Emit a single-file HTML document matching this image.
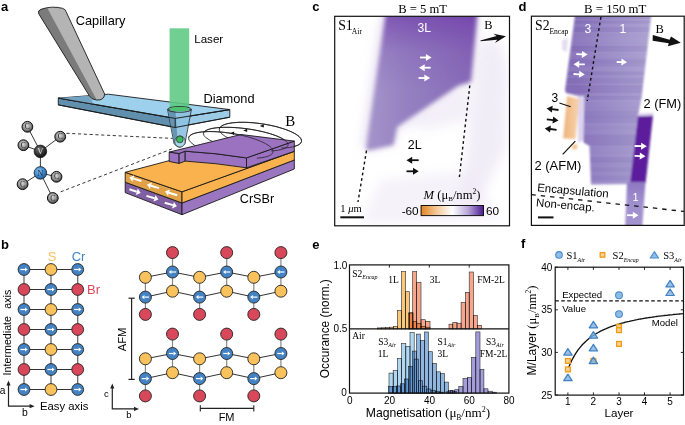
<!DOCTYPE html>
<html><head><meta charset="utf-8"><title>CrSBr figure</title>
<style>
html,body{margin:0;padding:0;background:#fff;width:685px;height:425px;overflow:hidden}
svg{display:block}
.sa{font-family:"Liberation Sans",Arial,sans-serif}
.se{font-family:"Liberation Serif","Times New Roman",serif}
.lab{font-family:"Liberation Sans",Arial,sans-serif;font-weight:bold;font-size:13px}
</style></head><body>
<svg width="685" height="425" viewBox="0 0 685 425">
<defs>
<radialGradient id="gC" cx="45%" cy="40%" r="60%"><stop offset="0" stop-color="#d8d8d8"/><stop offset="0.55" stop-color="#9a9a9a"/><stop offset="1" stop-color="#3a3a3a"/></radialGradient>
<radialGradient id="gV" cx="40%" cy="35%" r="65%"><stop offset="0" stop-color="#777"/><stop offset="0.6" stop-color="#333"/><stop offset="1" stop-color="#111"/></radialGradient>
<radialGradient id="gN" cx="40%" cy="35%" r="65%"><stop offset="0" stop-color="#8cc2ee"/><stop offset="0.6" stop-color="#3f86c8"/><stop offset="1" stop-color="#1f5a98"/></radialGradient>
<linearGradient id="gc" gradientUnits="userSpaceOnUse" x1="368" y1="0" x2="478" y2="0"><stop offset="0" stop-color="#a494ca"/><stop offset="0.35" stop-color="#9581c1"/><stop offset="1" stop-color="#8567b6"/></linearGradient>
<linearGradient id="gc2" gradientUnits="userSpaceOnUse" x1="0" y1="14" x2="0" y2="90"><stop offset="0" stop-color="#6a32a6" stop-opacity="0.6"/><stop offset="0.5" stop-color="#6a32a6" stop-opacity="0.15"/><stop offset="1" stop-color="#6a32a6" stop-opacity="0"/></linearGradient>
<linearGradient id="gd" gradientUnits="userSpaceOnUse" x1="575" y1="0" x2="650" y2="0"><stop offset="0" stop-color="#8a77bd"/><stop offset="1" stop-color="#a99ed0"/></linearGradient>
<linearGradient id="gcb" x1="0" y1="0" x2="1" y2="0"><stop offset="0" stop-color="#e38424"/><stop offset="0.25" stop-color="#f3c899"/><stop offset="0.5" stop-color="#ffffff"/><stop offset="0.75" stop-color="#b9a8da"/><stop offset="1" stop-color="#4b1a93"/></linearGradient>
<linearGradient id="gor" x1="0" y1="0" x2="1" y2="0"><stop offset="0" stop-color="#eeb27a"/><stop offset="0.6" stop-color="#f4c89c"/><stop offset="1" stop-color="#f6d2ad"/></linearGradient>
<linearGradient id="gstrip" x1="0" y1="0" x2="0" y2="1"><stop offset="0" stop-color="#8e78c2"/><stop offset="0.4" stop-color="#9f8ecd"/><stop offset="1" stop-color="#a494ce"/></linearGradient>
<filter id="blur2" x="-20%" y="-20%" width="140%" height="140%"><feGaussianBlur stdDeviation="2.3"/></filter>
<filter id="blur1" x="-20%" y="-20%" width="140%" height="140%"><feGaussianBlur stdDeviation="1"/></filter>
<filter id="blur6" x="-50%" y="-50%" width="200%" height="200%"><feGaussianBlur stdDeviation="6"/></filter>
</defs>
<rect width="685" height="425" fill="#fff"/>
<text x="1.0" y="10.9" class="lab">a</text>
<polygon points="58.3,98.1 175.2,118.4 175.2,127.5 58.3,104.9" fill="#6090ad" stroke="#1a1a1a" stroke-width="0.9" stroke-linejoin="round"/>
<polygon points="175.2,118.4 229.8,109.6 229.8,117.2 175.2,127.5" fill="#9bcbe6" stroke="#1a1a1a" stroke-width="0.9" stroke-linejoin="round"/>
<polygon points="58.3,98.1 108.4,94.2 229.8,109.6 175.2,118.4" fill="#9dd0ec" stroke="#1a1a1a" stroke-width="0.9" stroke-linejoin="round"/>
<polygon points="58.3,98.1 88.5,95.8 92.0,100.5 93.0,104.2" fill="#74a3c2"/>
<path d="M38.6,13.6 Q37.6,10.6 41,9.3 Q51.5,5.6 62.5,8.3 Q65.6,9.3 66,11.6 L104.7,94.2 Q104,100.6 96.5,100 Q91,99.6 89.2,95.6 Z" fill="#b4b4b4"/>
<path d="M38.6,13.6 Q37.6,10.6 41,9.3 Q44,8.3 47.3,7.9 L96.6,99.8 Q91.3,99.4 89.4,95.4 Z" fill="#7b7b7b"/>
<path d="M38.6,13.6 Q37.6,10.6 41,9.3 Q51.5,5.6 62.5,8.3 Q65.6,9.3 66,11.6 L104.7,94.2 Q104,100.6 96.5,100 Q91,99.6 89.2,95.6 Z" fill="none" stroke="#1a1a1a" stroke-width="0.9"/>
<path d="M167.6,109.6 L174,143.5 Q179.5,151 185,143.5 L191.4,109.6 Z" fill="#8fc3e2" stroke="#1a1a1a" stroke-width="0.8" opacity="0.92"/>
<path d="M167.9,110 L174.3,143 Q176,146.5 178,147.5 L175.5,110.5 Z" fill="#5f8cab" opacity="0.85"/>
<polyline points="58.3,98.1 175.2,118.4 229.8,109.6" fill="none" stroke="#1a1a1a" stroke-width="0.9"/>
<polyline points="175.2,118.4 175.2,127.5" fill="none" stroke="#1a1a1a" stroke-width="0.9"/>
<polyline points="58.3,104.9 175.2,127.5 229.8,117.2" fill="none" stroke="#1a1a1a" stroke-width="0.9"/>
<ellipse cx="180" cy="141.5" rx="5.2" ry="5.6" fill="#a9d6ee" stroke="#1a1a1a" stroke-width="0.6"/>
<circle cx="179.8" cy="139.4" r="3.4" fill="#3db85c" stroke="#1a1a1a" stroke-width="0.6"/>
<rect x="169.6" y="28.3" width="19.6" height="81.3" fill="#5cc982" opacity="0.88"/>
<ellipse cx="179.5" cy="109.4" rx="11.9" ry="2.9" fill="none" stroke="#1a1a1a" stroke-width="0.8"/>
<ellipse cx="179.4" cy="109.2" rx="9.6" ry="2.3" fill="#4cc270"/>
<text x="75.7" y="25.3" class="sa" font-size="12.8">Capillary</text>
<text x="194.2" y="43" class="sa" font-size="11.6">Laser</text>
<text x="203.4" y="102.8" class="sa" font-size="12.8">Diamond</text>
<line x1="66.4" y1="133.3" x2="172.6" y2="138.4" stroke="#222" stroke-width="0.9" stroke-dasharray="3.2,2.6"/>
<line x1="60.7" y1="191.8" x2="173" y2="148.5" stroke="#222" stroke-width="0.9" stroke-dasharray="3.2,2.6"/>
<line x1="40.4" y1="151.4" x2="27.4" y2="126.8" stroke="#222" stroke-width="0.9"/>
<line x1="40.4" y1="151.4" x2="23.4" y2="145.2" stroke="#222" stroke-width="0.9"/>
<line x1="40.4" y1="151.4" x2="60.2" y2="136.7" stroke="#222" stroke-width="0.9"/>
<line x1="40.4" y1="172.9" x2="56.5" y2="176.8" stroke="#222" stroke-width="0.9"/>
<line x1="40.4" y1="172.9" x2="22.6" y2="184.2" stroke="#222" stroke-width="0.9"/>
<line x1="40.4" y1="172.9" x2="52.8" y2="198" stroke="#222" stroke-width="0.9"/>
<line x1="40.4" y1="151.4" x2="40.4" y2="172.9" stroke="#222" stroke-width="0.9"/>
<circle cx="27.4" cy="126.8" r="5.4" fill="url(#gC)" stroke="#111" stroke-width="1"/>
<text x="27.4" y="129.4" class="se" font-size="7.6" text-anchor="middle" fill="#222">C</text>
<circle cx="23.4" cy="145.2" r="5.4" fill="url(#gC)" stroke="#111" stroke-width="1"/>
<text x="23.4" y="147.79999999999998" class="se" font-size="7.6" text-anchor="middle" fill="#222">C</text>
<circle cx="60.2" cy="136.7" r="5.4" fill="url(#gC)" stroke="#111" stroke-width="1"/>
<text x="60.2" y="139.29999999999998" class="se" font-size="7.6" text-anchor="middle" fill="#222">C</text>
<circle cx="56.5" cy="176.8" r="5.4" fill="url(#gC)" stroke="#111" stroke-width="1"/>
<text x="56.5" y="179.4" class="se" font-size="7.6" text-anchor="middle" fill="#222">C</text>
<circle cx="22.6" cy="184.2" r="5.4" fill="url(#gC)" stroke="#111" stroke-width="1"/>
<text x="22.6" y="186.79999999999998" class="se" font-size="7.6" text-anchor="middle" fill="#222">C</text>
<circle cx="52.8" cy="198" r="5.4" fill="url(#gC)" stroke="#111" stroke-width="1"/>
<text x="52.8" y="200.6" class="se" font-size="7.6" text-anchor="middle" fill="#222">C</text>
<circle cx="40.4" cy="151.4" r="6.3" fill="url(#gV)" stroke="#111" stroke-width="0.7"/>
<text x="40.4" y="154.4" class="se" font-size="8.6" text-anchor="middle" fill="#ddd">V</text>
<circle cx="40.4" cy="172.9" r="6.3" fill="url(#gN)" stroke="#111" stroke-width="0.7"/>
<text x="40.4" y="175.9" class="se" font-size="8.4" text-anchor="middle" fill="#1a2a4a">N</text>
<polygon points="125.2,182.2 182.0,203.0 182.0,214.7 125.2,192.6" fill="#7f5ea1" stroke="#1a1a1a" stroke-width="0.9" stroke-linejoin="round"/>
<polygon points="182.0,203.0 294.3,160.0 294.3,169.0 182.0,214.7" fill="#9a76c0" stroke="#1a1a1a" stroke-width="0.9" stroke-linejoin="round"/>
<polygon points="125.2,172.3 182.0,191.8 182.0,203.0 125.2,182.2" fill="#e1a247" stroke="#1a1a1a" stroke-width="0.9" stroke-linejoin="round"/>
<polygon points="182.0,191.8 294.3,151.3 294.3,160.0 182.0,203.0" fill="#f9b24e" stroke="#1a1a1a" stroke-width="0.9" stroke-linejoin="round"/>
<polygon points="125.2,172.3 240.0,141.9 294.3,151.3 182.0,191.8" fill="#f9b24e" stroke="#1a1a1a" stroke-width="0.9" stroke-linejoin="round"/>
<line x1="141.3" y1="181.0" x2="133.3" y2="178.6" stroke="#fff" stroke-width="2.0"/><polygon points="129.4,177.4 134.3,175.3 132.3,181.8" fill="#fff"/>
<line x1="159.0" y1="188.1" x2="150.9" y2="185.7" stroke="#fff" stroke-width="2.0"/><polygon points="147.0,184.5 151.9,182.4 149.9,188.9" fill="#fff"/>
<line x1="177.2" y1="195.2" x2="168.9" y2="192.8" stroke="#fff" stroke-width="2.0"/><polygon points="165.0,191.6 169.9,189.5 168.0,196.0" fill="#fff"/>
<line x1="129.4" y1="189.3" x2="136.8" y2="191.7" stroke="#fff" stroke-width="2.0"/><polygon points="140.7,192.9 135.8,194.9 137.8,188.4" fill="#fff"/>
<line x1="146.4" y1="195.9" x2="154.5" y2="198.3" stroke="#fff" stroke-width="2.0"/><polygon points="158.4,199.5 153.5,201.6 155.5,195.1" fill="#fff"/>
<line x1="164.7" y1="202.7" x2="173.0" y2="205.1" stroke="#fff" stroke-width="2.0"/><polygon points="176.9,206.3 172.0,208.4 173.9,201.9" fill="#fff"/>
<ellipse cx="230.8" cy="144.9" rx="42.8" ry="11.5" transform="rotate(9.5 230.8 144.9)" fill="none" stroke="#1a1a1a" stroke-width="0.75"/>
<ellipse cx="245.7" cy="139.2" rx="42.7" ry="10.5" transform="rotate(7.8 245.7 139.2)" fill="none" stroke="#1a1a1a" stroke-width="0.75"/>
<ellipse cx="260.4" cy="135.2" rx="41.6" ry="11.5" transform="rotate(8.5 260.4 135.2)" fill="none" stroke="#1a1a1a" stroke-width="0.75"/>
<polygon points="169.2,152.1 179.1,153.5 179.1,163.4 169.2,161.5" fill="#9b72c0" stroke="#1a1a1a" stroke-width="0.9" stroke-linejoin="round"/>
<polygon points="179.1,153.5 185.2,151.2 185.2,161.1 179.1,163.4" fill="#9b72c0" stroke="#1a1a1a" stroke-width="0.9" stroke-linejoin="round"/>
<path d="M185.2,151.2 Q216,153 246.5,157.9 L246.5,167.8 Q216,163 185.2,161.1 Z" fill="#9b72c0" stroke="#1a1a1a" stroke-width="0.9" stroke-linejoin="round"/>
<polygon points="246.5,157.9 294.3,141.1 294.3,151.3 246.5,167.8" fill="#9b72c0" stroke="#1a1a1a" stroke-width="0.9" stroke-linejoin="round"/>
<path d="M169.2,152.1 L241,134.5 L294.3,141.1 L246.5,157.9 Q216,153 185.2,151.2 L179.1,153.5 Z" fill="#9b72c0" stroke="#1a1a1a" stroke-width="0.9" stroke-linejoin="round"/>
<polyline points="188.59,137.84 188.73,137.28 188.99,136.74 189.35,136.22 189.81,135.72 190.37,135.25 191.03,134.80 191.80,134.37 192.66,133.98 193.62,133.60 194.67,133.26 195.81,132.95 197.04,132.66 198.35,132.41 199.74,132.19 201.22,132.00 202.76,131.84 204.38,131.72 206.06,131.62 207.80,131.56 209.60,131.54 211.46,131.55 213.36,131.59 215.31,131.66 217.29,131.77 219.31,131.91 221.36,132.08 223.43,132.29 225.52,132.52 227.62,132.79 229.73,133.09 231.85,133.42 233.96,133.77 236.06,134.16 238.15,134.57 240.22,135.00 242.27,135.47 244.29,135.95 246.27,136.46 248.22,136.99 250.12,137.54 251.98,138.10 253.78,138.69 255.52,139.28 257.21,139.90 258.82,140.52 260.37,141.16 261.84,141.81 263.24,142.46 264.55,143.12 265.78,143.78 266.92,144.45 267.97,145.12 268.93,145.79 269.79,146.45 270.56,147.11 271.22,147.77 271.79,148.42 272.25,149.06 272.61,149.69 272.86,150.31 273.01,150.91 273.06,151.50 272.99,152.07 272.82,152.63 272.55,153.16 272.17,153.68 271.69,154.17 271.11,154.64 270.43,155.09 269.64,155.51 268.76,155.90 267.79,156.26 266.72,156.60 265.56,156.91 264.32,157.19 262.99,157.43 261.58,157.65 260.09,157.83 258.53,157.99 256.90,158.10" fill="none" stroke="#1a1a1a" stroke-width="0.75"/>
<polyline points="203.40,133.40 203.52,132.89 203.75,132.39 204.09,131.90 204.54,131.44 205.09,130.99 205.74,130.57 206.49,130.17 207.35,129.79 208.30,129.43 209.34,129.10 210.48,128.80 211.71,128.52 213.02,128.27 214.42,128.04 215.89,127.85 217.45,127.68 219.07,127.54 220.76,127.44 222.52,127.36 224.33,127.31 226.20,127.29 228.11,127.30 230.08,127.35 232.08,127.42 234.11,127.52 236.18,127.66 238.27,127.82 240.38,128.01 242.50,128.23 244.63,128.47 246.76,128.75 248.89,129.05 251.02,129.38 253.12,129.73 255.21,130.10 257.28,130.50 259.32,130.92 261.32,131.36 263.28,131.82 265.20,132.30 267.06,132.80 268.88,133.32 270.63,133.85 272.32,134.39 273.95,134.94 275.50,135.51 276.98,136.08 278.37,136.67 279.69,137.26 280.92,137.85 282.05,138.45 283.10,139.05 284.05,139.65 284.90,140.25 285.66,140.84 286.31,141.43 286.86,142.02 287.31,142.60 287.65,143.17 287.88,143.73 288.00,144.28 288.02,144.82 287.93,145.34 287.74,145.84 287.43,146.33 287.03,146.80 286.51,147.26 285.89,147.69 285.17,148.10 284.35,148.49 283.44,148.85 282.42,149.19 281.32,149.50 280.12,149.79 278.83,150.05 277.46,150.28 276.02,150.49 274.49,150.67 272.89,150.81 271.22,150.93" fill="none" stroke="#1a1a1a" stroke-width="0.75"/>
<polyline points="219.26,129.05 219.40,128.47 219.65,127.91 220.02,127.37 220.49,126.84 221.06,126.34 221.75,125.87 222.53,125.42 223.42,124.99 224.41,124.60 225.49,124.23 226.67,123.89 227.93,123.58 229.29,123.30 230.73,123.06 232.24,122.84 233.83,122.66 235.50,122.52 237.23,122.40 239.02,122.32 240.87,122.28 242.77,122.27 244.72,122.30 246.71,122.36 248.74,122.45 250.80,122.58 252.89,122.74 254.99,122.94 257.11,123.17 259.24,123.43 261.37,123.72 263.50,124.04 265.62,124.40 267.73,124.78 269.81,125.19 271.88,125.62 273.91,126.09 275.90,126.57 277.86,127.08 279.76,127.61 281.62,128.17 283.41,128.74 285.15,129.33 286.82,129.93 288.42,130.55 289.94,131.18 291.39,131.82 292.75,132.47 294.03,133.13 295.21,133.79 296.30,134.46 297.30,135.13 298.19,135.80 298.99,136.46 299.68,137.13 300.27,137.79 300.75,138.44 301.12,139.08 301.38,139.71 301.53,140.34 301.58,140.94 301.51,141.53 301.33,142.11 301.04,142.67 300.65,143.20 300.14,143.72 299.53,144.21 298.82,144.68 298.00,145.12 297.08,145.53 296.06,145.92 294.95,146.28 293.74,146.61 292.45,146.91 291.07,147.18 289.60,147.41 288.06,147.62 286.45,147.79 284.76,147.92 283.01,148.03 281.20,148.09" fill="none" stroke="#1a1a1a" stroke-width="0.75"/>
<polygon points="230.10000000000002,133.2 234.10000000000002,131.5 234.10000000000002,134.89999999999998" fill="#111"/>
<polygon points="243.20000000000002,130.4 247.20000000000002,128.70000000000002 247.20000000000002,132.1" fill="#111"/>
<polygon points="259.8,125.9 263.8,124.2 263.8,127.60000000000001" fill="#111"/>
<text x="285.2" y="125.8" class="se" font-size="15">B</text>
<text x="239.8" y="203" class="sa" font-size="12.6">CrSBr</text>
<text x="1.0" y="248.7" class="lab">b</text>
<line x1="24.0" y1="269.5" x2="24.0" y2="389.5" stroke="#6a6a6a" stroke-width="1.3"/>
<line x1="51.0" y1="269.5" x2="51.0" y2="389.5" stroke="#6a6a6a" stroke-width="1.3"/>
<line x1="77.7" y1="269.5" x2="77.7" y2="389.5" stroke="#6a6a6a" stroke-width="1.3"/>
<line x1="24.0" y1="269.5" x2="77.7" y2="269.5" stroke="#333" stroke-width="1.2"/>
<line x1="24.0" y1="289.5" x2="77.7" y2="289.5" stroke="#333" stroke-width="1.2"/>
<line x1="24.0" y1="309.5" x2="77.7" y2="309.5" stroke="#333" stroke-width="1.2"/>
<line x1="24.0" y1="329.5" x2="77.7" y2="329.5" stroke="#333" stroke-width="1.2"/>
<line x1="24.0" y1="349.5" x2="77.7" y2="349.5" stroke="#333" stroke-width="1.2"/>
<line x1="24.0" y1="369.5" x2="77.7" y2="369.5" stroke="#333" stroke-width="1.2"/>
<line x1="24.0" y1="389.5" x2="77.7" y2="389.5" stroke="#333" stroke-width="1.2"/>
<circle cx="24.0" cy="269.5" r="5.9" fill="#4383c4" stroke="#222" stroke-width="0.9"/><line x1="20.4" y1="269.5" x2="25.0" y2="269.5" stroke="#fff" stroke-width="1.2"/><polygon points="27.7,269.5 25.0,267.4 25.0,271.6" fill="#fff"/>
<circle cx="51.0" cy="269.5" r="5.9" fill="#f9c25c" stroke="#222" stroke-width="0.9"/>
<circle cx="77.7" cy="269.5" r="5.9" fill="#4383c4" stroke="#222" stroke-width="0.9"/><line x1="74.1" y1="269.5" x2="78.7" y2="269.5" stroke="#fff" stroke-width="1.2"/><polygon points="81.4,269.5 78.7,267.4 78.7,271.6" fill="#fff"/>
<circle cx="24.0" cy="289.5" r="5.9" fill="#d8475a" stroke="#222" stroke-width="0.9"/>
<circle cx="51.0" cy="289.5" r="5.9" fill="#4383c4" stroke="#222" stroke-width="0.9"/><line x1="47.4" y1="289.5" x2="52.0" y2="289.5" stroke="#fff" stroke-width="1.2"/><polygon points="54.7,289.5 52.0,287.4 52.0,291.6" fill="#fff"/>
<circle cx="77.7" cy="289.5" r="5.9" fill="#d8475a" stroke="#222" stroke-width="0.9"/>
<circle cx="24.0" cy="309.5" r="5.9" fill="#4383c4" stroke="#222" stroke-width="0.9"/><line x1="20.4" y1="309.5" x2="25.0" y2="309.5" stroke="#fff" stroke-width="1.2"/><polygon points="27.7,309.5 25.0,307.4 25.0,311.6" fill="#fff"/>
<circle cx="51.0" cy="309.5" r="5.9" fill="#f9c25c" stroke="#222" stroke-width="0.9"/>
<circle cx="77.7" cy="309.5" r="5.9" fill="#4383c4" stroke="#222" stroke-width="0.9"/><line x1="74.1" y1="309.5" x2="78.7" y2="309.5" stroke="#fff" stroke-width="1.2"/><polygon points="81.4,309.5 78.7,307.4 78.7,311.6" fill="#fff"/>
<circle cx="24.0" cy="329.5" r="5.9" fill="#d8475a" stroke="#222" stroke-width="0.9"/>
<circle cx="51.0" cy="329.5" r="5.9" fill="#4383c4" stroke="#222" stroke-width="0.9"/><line x1="47.4" y1="329.5" x2="52.0" y2="329.5" stroke="#fff" stroke-width="1.2"/><polygon points="54.7,329.5 52.0,327.4 52.0,331.6" fill="#fff"/>
<circle cx="77.7" cy="329.5" r="5.9" fill="#d8475a" stroke="#222" stroke-width="0.9"/>
<circle cx="24.0" cy="349.5" r="5.9" fill="#4383c4" stroke="#222" stroke-width="0.9"/><line x1="20.4" y1="349.5" x2="25.0" y2="349.5" stroke="#fff" stroke-width="1.2"/><polygon points="27.7,349.5 25.0,347.4 25.0,351.6" fill="#fff"/>
<circle cx="51.0" cy="349.5" r="5.9" fill="#f9c25c" stroke="#222" stroke-width="0.9"/>
<circle cx="77.7" cy="349.5" r="5.9" fill="#4383c4" stroke="#222" stroke-width="0.9"/><line x1="74.1" y1="349.5" x2="78.7" y2="349.5" stroke="#fff" stroke-width="1.2"/><polygon points="81.4,349.5 78.7,347.4 78.7,351.6" fill="#fff"/>
<circle cx="24.0" cy="369.5" r="5.9" fill="#d8475a" stroke="#222" stroke-width="0.9"/>
<circle cx="51.0" cy="369.5" r="5.9" fill="#4383c4" stroke="#222" stroke-width="0.9"/><line x1="47.4" y1="369.5" x2="52.0" y2="369.5" stroke="#fff" stroke-width="1.2"/><polygon points="54.7,369.5 52.0,367.4 52.0,371.6" fill="#fff"/>
<circle cx="77.7" cy="369.5" r="5.9" fill="#d8475a" stroke="#222" stroke-width="0.9"/>
<circle cx="24.0" cy="389.5" r="5.9" fill="#4383c4" stroke="#222" stroke-width="0.9"/><line x1="20.4" y1="389.5" x2="25.0" y2="389.5" stroke="#fff" stroke-width="1.2"/><polygon points="27.7,389.5 25.0,387.4 25.0,391.6" fill="#fff"/>
<circle cx="51.0" cy="389.5" r="5.9" fill="#f9c25c" stroke="#222" stroke-width="0.9"/>
<circle cx="77.7" cy="389.5" r="5.9" fill="#4383c4" stroke="#222" stroke-width="0.9"/><line x1="74.1" y1="389.5" x2="78.7" y2="389.5" stroke="#fff" stroke-width="1.2"/><polygon points="81.4,389.5 78.7,387.4 78.7,391.6" fill="#fff"/>
<text x="52.0" y="260.6" class="sa" font-size="13" fill="#f9c25c" text-anchor="middle">S</text>
<text x="78.6" y="260.6" class="sa" font-size="13" fill="#4383c4" text-anchor="middle">Cr</text>
<text x="87.0" y="293.6" class="sa" font-size="13" fill="#d8475a">Br</text>
<text transform="translate(10.9,375.4) rotate(-90)" class="sa" font-size="10.7">Intermediate<tspan dx="7.3">axis</tspan></text>
<polyline points="8.5,383 8.5,406.2 31,406.2" fill="none" stroke="#222" stroke-width="1.2"/>
<polygon points="8.5,380.6 6.4,385.6 10.6,385.6" fill="#222"/>
<polygon points="34.6,406.2 29.6,404.1 29.6,408.3" fill="#222"/>
<text x="2.6" y="394" class="sa" font-size="10.2" text-anchor="middle">a</text>
<text x="24.8" y="416" class="sa" font-size="10.4" text-anchor="middle">b</text>
<text x="40" y="410.2" class="sa" font-size="11.3">Easy axis</text>
<line x1="145.4" y1="277.3" x2="145.4" y2="314.4" stroke="#888" stroke-width="1.2"/>
<line x1="172.5" y1="252.6" x2="172.5" y2="291.2" stroke="#888" stroke-width="1.2"/>
<line x1="199.6" y1="277.3" x2="199.6" y2="314.4" stroke="#888" stroke-width="1.2"/>
<line x1="226.7" y1="252.6" x2="226.7" y2="291.2" stroke="#888" stroke-width="1.2"/>
<line x1="253.8" y1="277.3" x2="253.8" y2="314.4" stroke="#888" stroke-width="1.2"/>
<line x1="280.9" y1="252.6" x2="280.9" y2="291.2" stroke="#888" stroke-width="1.2"/>
<polyline points="145.4,277.3 172.5,272.0 199.6,277.3 226.7,272.0 253.8,277.3 280.9,272.0" fill="none" stroke="#333" stroke-width="1"/>
<polyline points="145.4,297.1 172.5,291.2 199.6,297.1 226.7,291.2 253.8,297.1 280.9,291.2" fill="none" stroke="#333" stroke-width="1"/>
<circle cx="145.4" cy="277.3" r="6.0" fill="#f9c25c" stroke="#222" stroke-width="0.9"/>
<circle cx="145.4" cy="297.1" r="6.0" fill="#4383c4" stroke="#222" stroke-width="0.9"/><line x1="149.0" y1="297.1" x2="144.4" y2="297.1" stroke="#fff" stroke-width="1.2"/><polygon points="141.7,297.1 144.4,295.0 144.4,299.2" fill="#fff"/>
<circle cx="145.4" cy="314.4" r="6.0" fill="#d8475a" stroke="#222" stroke-width="0.9"/>
<circle cx="172.5" cy="252.6" r="6.0" fill="#d8475a" stroke="#222" stroke-width="0.9"/>
<circle cx="172.5" cy="272.0" r="6.0" fill="#4383c4" stroke="#222" stroke-width="0.9"/><line x1="176.1" y1="272.0" x2="171.5" y2="272.0" stroke="#fff" stroke-width="1.2"/><polygon points="168.8,272.0 171.5,269.9 171.5,274.1" fill="#fff"/>
<circle cx="172.5" cy="291.2" r="6.0" fill="#f9c25c" stroke="#222" stroke-width="0.9"/>
<circle cx="199.6" cy="277.3" r="6.0" fill="#f9c25c" stroke="#222" stroke-width="0.9"/>
<circle cx="199.6" cy="297.1" r="6.0" fill="#4383c4" stroke="#222" stroke-width="0.9"/><line x1="203.2" y1="297.1" x2="198.6" y2="297.1" stroke="#fff" stroke-width="1.2"/><polygon points="195.9,297.1 198.6,295.0 198.6,299.2" fill="#fff"/>
<circle cx="199.6" cy="314.4" r="6.0" fill="#d8475a" stroke="#222" stroke-width="0.9"/>
<circle cx="226.7" cy="252.6" r="6.0" fill="#d8475a" stroke="#222" stroke-width="0.9"/>
<circle cx="226.7" cy="272.0" r="6.0" fill="#4383c4" stroke="#222" stroke-width="0.9"/><line x1="230.3" y1="272.0" x2="225.7" y2="272.0" stroke="#fff" stroke-width="1.2"/><polygon points="223.0,272.0 225.7,269.9 225.7,274.1" fill="#fff"/>
<circle cx="226.7" cy="291.2" r="6.0" fill="#f9c25c" stroke="#222" stroke-width="0.9"/>
<circle cx="253.8" cy="277.3" r="6.0" fill="#f9c25c" stroke="#222" stroke-width="0.9"/>
<circle cx="253.8" cy="297.1" r="6.0" fill="#4383c4" stroke="#222" stroke-width="0.9"/><line x1="257.4" y1="297.1" x2="252.8" y2="297.1" stroke="#fff" stroke-width="1.2"/><polygon points="250.1,297.1 252.8,295.0 252.8,299.2" fill="#fff"/>
<circle cx="253.8" cy="314.4" r="6.0" fill="#d8475a" stroke="#222" stroke-width="0.9"/>
<circle cx="280.9" cy="252.6" r="6.0" fill="#d8475a" stroke="#222" stroke-width="0.9"/>
<circle cx="280.9" cy="272.0" r="6.0" fill="#4383c4" stroke="#222" stroke-width="0.9"/><line x1="284.5" y1="272.0" x2="279.9" y2="272.0" stroke="#fff" stroke-width="1.2"/><polygon points="277.2,272.0 279.9,269.9 279.9,274.1" fill="#fff"/>
<circle cx="280.9" cy="291.2" r="6.0" fill="#f9c25c" stroke="#222" stroke-width="0.9"/>
<line x1="145.4" y1="358.8" x2="145.4" y2="395.9" stroke="#888" stroke-width="1.2"/>
<line x1="172.5" y1="334.1" x2="172.5" y2="372.7" stroke="#888" stroke-width="1.2"/>
<line x1="199.6" y1="358.8" x2="199.6" y2="395.9" stroke="#888" stroke-width="1.2"/>
<line x1="226.7" y1="334.1" x2="226.7" y2="372.7" stroke="#888" stroke-width="1.2"/>
<line x1="253.8" y1="358.8" x2="253.8" y2="395.9" stroke="#888" stroke-width="1.2"/>
<line x1="280.9" y1="334.1" x2="280.9" y2="372.7" stroke="#888" stroke-width="1.2"/>
<polyline points="145.4,358.8 172.5,353.5 199.6,358.8 226.7,353.5 253.8,358.8 280.9,353.5" fill="none" stroke="#333" stroke-width="1"/>
<polyline points="145.4,378.6 172.5,372.7 199.6,378.6 226.7,372.7 253.8,378.6 280.9,372.7" fill="none" stroke="#333" stroke-width="1"/>
<circle cx="145.4" cy="358.8" r="6.0" fill="#f9c25c" stroke="#222" stroke-width="0.9"/>
<circle cx="145.4" cy="378.6" r="6.0" fill="#4383c4" stroke="#222" stroke-width="0.9"/><line x1="141.8" y1="378.6" x2="146.4" y2="378.6" stroke="#fff" stroke-width="1.2"/><polygon points="149.1,378.6 146.4,376.5 146.4,380.7" fill="#fff"/>
<circle cx="145.4" cy="395.9" r="6.0" fill="#d8475a" stroke="#222" stroke-width="0.9"/>
<circle cx="172.5" cy="334.1" r="6.0" fill="#d8475a" stroke="#222" stroke-width="0.9"/>
<circle cx="172.5" cy="353.5" r="6.0" fill="#4383c4" stroke="#222" stroke-width="0.9"/><line x1="168.9" y1="353.5" x2="173.5" y2="353.5" stroke="#fff" stroke-width="1.2"/><polygon points="176.2,353.5 173.5,351.4 173.5,355.6" fill="#fff"/>
<circle cx="172.5" cy="372.7" r="6.0" fill="#f9c25c" stroke="#222" stroke-width="0.9"/>
<circle cx="199.6" cy="358.8" r="6.0" fill="#f9c25c" stroke="#222" stroke-width="0.9"/>
<circle cx="199.6" cy="378.6" r="6.0" fill="#4383c4" stroke="#222" stroke-width="0.9"/><line x1="196.0" y1="378.6" x2="200.6" y2="378.6" stroke="#fff" stroke-width="1.2"/><polygon points="203.3,378.6 200.6,376.5 200.6,380.7" fill="#fff"/>
<circle cx="199.6" cy="395.9" r="6.0" fill="#d8475a" stroke="#222" stroke-width="0.9"/>
<circle cx="226.7" cy="334.1" r="6.0" fill="#d8475a" stroke="#222" stroke-width="0.9"/>
<circle cx="226.7" cy="353.5" r="6.0" fill="#4383c4" stroke="#222" stroke-width="0.9"/><line x1="223.1" y1="353.5" x2="227.7" y2="353.5" stroke="#fff" stroke-width="1.2"/><polygon points="230.4,353.5 227.7,351.4 227.7,355.6" fill="#fff"/>
<circle cx="226.7" cy="372.7" r="6.0" fill="#f9c25c" stroke="#222" stroke-width="0.9"/>
<circle cx="253.8" cy="358.8" r="6.0" fill="#f9c25c" stroke="#222" stroke-width="0.9"/>
<circle cx="253.8" cy="378.6" r="6.0" fill="#4383c4" stroke="#222" stroke-width="0.9"/><line x1="250.2" y1="378.6" x2="254.8" y2="378.6" stroke="#fff" stroke-width="1.2"/><polygon points="257.5,378.6 254.8,376.5 254.8,380.7" fill="#fff"/>
<circle cx="253.8" cy="395.9" r="6.0" fill="#d8475a" stroke="#222" stroke-width="0.9"/>
<circle cx="280.9" cy="334.1" r="6.0" fill="#d8475a" stroke="#222" stroke-width="0.9"/>
<circle cx="280.9" cy="353.5" r="6.0" fill="#4383c4" stroke="#222" stroke-width="0.9"/><line x1="277.3" y1="353.5" x2="281.9" y2="353.5" stroke="#fff" stroke-width="1.2"/><polygon points="284.6,353.5 281.9,351.4 281.9,355.6" fill="#fff"/>
<circle cx="280.9" cy="372.7" r="6.0" fill="#f9c25c" stroke="#222" stroke-width="0.9"/>
<line x1="131.6" y1="298.2" x2="131.6" y2="379.4" stroke="#222" stroke-width="1.2"/>
<line x1="128.5" y1="298.2" x2="134.7" y2="298.2" stroke="#222" stroke-width="1.2"/>
<line x1="128.5" y1="379.4" x2="134.7" y2="379.4" stroke="#222" stroke-width="1.2"/>
<text transform="translate(126.2,339.5) rotate(-90)" class="sa" font-size="11.2" text-anchor="middle">AFM</text>
<polyline points="112.3,386 112.3,408.9 135.5,408.9" fill="none" stroke="#222" stroke-width="1.2"/>
<polygon points="112.3,383.4 110.2,388.4 114.4,388.4" fill="#222"/>
<polygon points="139,408.9 134,406.8 134,411" fill="#222"/>
<text x="106.4" y="397" class="sa" font-size="9.5" text-anchor="middle">c</text>
<text x="129" y="418" class="sa" font-size="9.5" text-anchor="middle">b</text>
<line x1="200.3" y1="408.4" x2="253.8" y2="408.4" stroke="#222" stroke-width="1.1"/>
<line x1="200.3" y1="405.3" x2="200.3" y2="411.5" stroke="#222" stroke-width="1.1"/>
<line x1="253.8" y1="405.3" x2="253.8" y2="411.5" stroke="#222" stroke-width="1.1"/>
<text x="226.6" y="421" class="sa" font-size="11" text-anchor="middle">FM</text>
<text x="312.2" y="11.2" class="lab">c</text>
<text x="422.6" y="13.2" class="se" font-size="12.6" text-anchor="middle">B = 5 mT</text>
<clipPath id="clipc"><rect x="335" y="16.5" width="174.2" height="209"/></clipPath>
<g clip-path="url(#clipc)">
<g filter="url(#blur6)"><polygon points="480,40 500,40 508,70 505,150 480,200 460,210 470,120" fill="#ebe6f4" opacity="0.7"/><polygon points="380,180 470,170 500,220 360,225" fill="#efeaf6" opacity="0.6"/><polygon points="400,125 458,88 470,88 468,120 430,130" fill="#ece6f4" opacity="0.6"/></g>
<g filter="url(#blur6)"><polygon points="383,12 478,12 470.6,81.8 458.5,85.5 397,127 393.5,143.5 366.5,149 363,147.5" fill="#d9cfea" opacity="0.8"/></g><g filter="url(#blur2)"><polygon points="386,12 477.5,12 471,81.8 458.5,85.5 397,127 393.5,145 368.5,150.5 366,149" fill="url(#gc)"/><polygon points="386,12 477.5,12 471,81.8 458.5,85.5 397,127 393.5,145 368.5,150.5 366,149" fill="url(#gc2)"/></g>
</g>
<rect x="334.7" y="16.3" width="174.8" height="209.5" fill="none" stroke="#111" stroke-width="1.2"/>
<text x="338.2" y="30.2" class="se" font-size="13.8">S1</text><text x="351.8" y="34.3" class="se" font-size="7.6">Air</text>
<text x="417.4" y="31.6" class="sa" font-size="12.2" fill="#fff">3L</text>
<line x1="420.0" y1="57.5" x2="426.4" y2="57.5" stroke="#fff" stroke-width="1.8"/><polygon points="431.6,57.5 425.9,61.0 425.9,54.0" fill="#fff"/>
<line x1="430.7" y1="67.7" x2="424.2" y2="67.7" stroke="#fff" stroke-width="1.8"/><polygon points="419.0,67.7 424.7,64.2 424.7,71.2" fill="#fff"/>
<line x1="418.5" y1="78.0" x2="424.9" y2="78.0" stroke="#fff" stroke-width="1.8"/><polygon points="430.1,78.0 424.4,81.5 424.4,74.5" fill="#fff"/>
<text x="484.3" y="29.4" class="se" font-size="12.3">B</text>
<polygon points="480.6,41.2 497.2,39.7 495.0,43.0 506.0,36.2 493.4,33.7 496.5,36.0 480.4,40.4" fill="#111"/>
<text x="407.8" y="149" class="sa" font-size="12.4">2L</text>
<line x1="418.7" y1="160.2" x2="411.7" y2="160.2" stroke="#111" stroke-width="1.8"/><polygon points="406.5,160.2 412.2,156.7 412.2,163.7" fill="#111"/>
<line x1="406.5" y1="171.3" x2="413.5" y2="171.3" stroke="#111" stroke-width="1.8"/><polygon points="418.7,171.3 413.0,174.8 413.0,167.8" fill="#111"/>
<line x1="366.5" y1="150.5" x2="358" y2="202" stroke="#111" stroke-width="1.4" stroke-dasharray="2.8,2.8"/>
<line x1="469.8" y1="85.5" x2="459.4" y2="177" stroke="#111" stroke-width="1.4" stroke-dasharray="2.8,2.8"/>
<text x="423.6" y="199" class="se" font-size="12.6"><tspan font-style="italic">M</tspan> (μ<tspan font-size="7" dy="2.2">B</tspan><tspan dy="-2.2">/nm</tspan><tspan font-size="7.6" dy="-4.6">2</tspan><tspan dy="4.6">)</tspan></text>
<rect x="421.1" y="205.5" width="62.4" height="10.1" fill="url(#gcb)" stroke="#111" stroke-width="1"/>
<text x="418.7" y="214.8" class="sa" font-size="11.8" text-anchor="end">-60</text>
<text x="486" y="214.8" class="sa" font-size="11.8">60</text>
<text x="340.2" y="212.2" class="se" font-size="10.6">1 <tspan font-style="italic">μ</tspan>m</text>
<rect x="340.3" y="216.3" width="23.7" height="2" fill="#111"/>
<text x="518.4" y="11" class="lab">d</text>
<text x="615.2" y="13.4" class="se" font-size="12.8" text-anchor="middle">B = 150 mT</text>
<clipPath id="clipd"><rect x="531.8" y="16.5" width="151.7" height="208.7"/></clipPath>
<g clip-path="url(#clipd)">
<g filter="url(#blur1)">
<polygon points="562,40 568,38 567,52 562,50" fill="#e4def0"/>
<polygon points="578,96 585,96 584,140 578,143" fill="#dcd4ee"/>
<polygon id="dflake" points="575.4,12 651.6,12 641.8,96 638,116 630.5,184 591,184.5 589.5,146 583.5,142.5 584.4,96 578,96 566,93 565,90" fill="url(#gd)"/>
<polygon points="575.4,12 601.5,12 587.5,100 584.8,96 578,96 566,93 565,90" fill="#6a4aa6" opacity="0.10"/>
<polygon points="567,96 579.2,98.8 575.5,139.2 563.2,138.3" fill="url(#gor)"/>
<polygon points="572.6,144.4 577.6,144.4 576.8,149.3 571.8,149.3" fill="#f3c394"/>
<polygon points="637.6,113.5 653.5,113 653,116 645.6,183.2 630,183.2 637.6,116" fill="#d8cdec"/><polygon points="637.8,116.2 653,115.8 645.6,183.2 630,183.2" fill="#5b1f9c"/>
<polygon points="627,182 645.5,182 642,230 625,230" fill="url(#gstrip)"/>
</g>
<clipPath id="clipdf"><polygon points="575.4,16 651.6,16 641.8,96 638,116 630.5,184 591,184.5 589.5,146 583.5,142.5 584.4,96 578,96 566,93 565,90"/></clipPath>
<g clip-path="url(#clipdf)">
<rect x="560" y="16.0" width="95" height="3" fill="#3a2070" opacity="0.026"/>
<rect x="560" y="19.0" width="95" height="1.5" fill="#fff" opacity="0.047"/>
<rect x="560" y="20.5" width="95" height="3" fill="#3a2070" opacity="0.046"/>
<rect x="560" y="23.5" width="95" height="2" fill="#fff" opacity="0.042"/>
<rect x="560" y="25.5" width="95" height="1.5" fill="#fff" opacity="0.048"/>
<rect x="560" y="27.0" width="95" height="1.5" fill="#3a2070" opacity="0.015"/>
<rect x="560" y="28.5" width="95" height="2" fill="#3a2070" opacity="0.033"/>
<rect x="560" y="30.5" width="95" height="1.5" fill="#3a2070" opacity="0.026"/>
<rect x="560" y="32.0" width="95" height="2" fill="#fff" opacity="0.063"/>
<rect x="560" y="34.0" width="95" height="3" fill="#fff" opacity="0.047"/>
<rect x="560" y="37.0" width="95" height="5" fill="#fff" opacity="0.061"/>
<rect x="560" y="42.0" width="95" height="2" fill="#fff" opacity="0.049"/>
<rect x="560" y="44.0" width="95" height="2" fill="#fff" opacity="0.047"/>
<rect x="560" y="46.0" width="95" height="1.5" fill="#3a2070" opacity="0.035"/>
<rect x="560" y="47.5" width="95" height="4" fill="#3a2070" opacity="0.027"/>
<rect x="560" y="51.5" width="95" height="3" fill="#fff" opacity="0.066"/>
<rect x="560" y="54.5" width="95" height="3" fill="#fff" opacity="0.060"/>
<rect x="560" y="57.5" width="95" height="2" fill="#fff" opacity="0.035"/>
<rect x="560" y="59.5" width="95" height="4" fill="#3a2070" opacity="0.039"/>
<rect x="560" y="63.5" width="95" height="3" fill="#3a2070" opacity="0.013"/>
<rect x="560" y="66.5" width="95" height="5" fill="#fff" opacity="0.058"/>
<rect x="560" y="71.5" width="95" height="2" fill="#3a2070" opacity="0.027"/>
<rect x="560" y="73.5" width="95" height="1.5" fill="#3a2070" opacity="0.033"/>
<rect x="560" y="75.0" width="95" height="3" fill="#fff" opacity="0.038"/>
<rect x="560" y="78.0" width="95" height="4" fill="#3a2070" opacity="0.028"/>
<rect x="560" y="82.0" width="95" height="1.5" fill="#3a2070" opacity="0.029"/>
<rect x="560" y="83.5" width="95" height="1.5" fill="#fff" opacity="0.055"/>
<rect x="560" y="85.0" width="95" height="5" fill="#3a2070" opacity="0.043"/>
<rect x="560" y="90.0" width="95" height="3" fill="#3a2070" opacity="0.045"/>
<rect x="560" y="93.0" width="95" height="3" fill="#fff" opacity="0.043"/>
<rect x="560" y="96.0" width="95" height="2" fill="#3a2070" opacity="0.030"/>
<rect x="560" y="98.0" width="95" height="2" fill="#3a2070" opacity="0.015"/>
<rect x="560" y="100.0" width="95" height="2" fill="#fff" opacity="0.066"/>
<rect x="560" y="102.0" width="95" height="4" fill="#fff" opacity="0.042"/>
<rect x="560" y="106.0" width="95" height="5" fill="#fff" opacity="0.027"/>
<rect x="560" y="111.0" width="95" height="4" fill="#3a2070" opacity="0.021"/>
<rect x="560" y="115.0" width="95" height="4" fill="#3a2070" opacity="0.037"/>
<rect x="560" y="119.0" width="95" height="4" fill="#3a2070" opacity="0.016"/>
<rect x="560" y="123.0" width="95" height="2" fill="#fff" opacity="0.053"/>
<rect x="560" y="125.0" width="95" height="1.5" fill="#fff" opacity="0.049"/>
<rect x="560" y="126.5" width="95" height="3" fill="#fff" opacity="0.027"/>
<rect x="560" y="129.5" width="95" height="5" fill="#fff" opacity="0.048"/>
<rect x="560" y="134.5" width="95" height="2" fill="#3a2070" opacity="0.031"/>
<rect x="560" y="136.5" width="95" height="5" fill="#3a2070" opacity="0.040"/>
<rect x="560" y="141.5" width="95" height="4" fill="#3a2070" opacity="0.041"/>
<rect x="560" y="145.5" width="95" height="5" fill="#fff" opacity="0.040"/>
<rect x="560" y="150.5" width="95" height="1.5" fill="#fff" opacity="0.040"/>
<rect x="560" y="152.0" width="95" height="2" fill="#fff" opacity="0.030"/>
<rect x="560" y="154.0" width="95" height="2" fill="#fff" opacity="0.050"/>
<rect x="560" y="156.0" width="95" height="1.5" fill="#fff" opacity="0.028"/>
<rect x="560" y="157.5" width="95" height="1.5" fill="#3a2070" opacity="0.035"/>
<rect x="560" y="159.0" width="95" height="1.5" fill="#3a2070" opacity="0.035"/>
<rect x="560" y="160.5" width="95" height="2" fill="#3a2070" opacity="0.048"/>
<rect x="560" y="162.5" width="95" height="5" fill="#fff" opacity="0.026"/>
<rect x="560" y="167.5" width="95" height="4" fill="#3a2070" opacity="0.029"/>
<rect x="560" y="171.5" width="95" height="4" fill="#fff" opacity="0.027"/>
<rect x="560" y="175.5" width="95" height="3" fill="#3a2070" opacity="0.029"/>
<rect x="560" y="178.5" width="95" height="2" fill="#3a2070" opacity="0.018"/>
<rect x="560" y="180.5" width="95" height="5" fill="#fff" opacity="0.055"/>
<rect x="560" y="185.5" width="95" height="1.5" fill="#3a2070" opacity="0.022"/>
</g>
</g>
<rect x="531.4" y="16.2" width="152.8" height="209.2" fill="none" stroke="#111" stroke-width="1.2"/>
<text x="535" y="30" class="se" font-size="13.8">S2</text><text x="549.4" y="34" class="se" font-size="7.6">Encap</text>
<text x="584.6" y="32.6" class="sa" font-size="12.2" fill="#fff">3</text>
<text x="619.6" y="32.6" class="sa" font-size="12.2" fill="#fff">1</text>
<line x1="600.9" y1="17" x2="587.2" y2="101" stroke="#111" stroke-width="1.4" stroke-dasharray="2.8,2.8"/>
<line x1="576.3" y1="54.2" x2="582.4" y2="54.4" stroke="#fff" stroke-width="1.8"/><polygon points="587.6,54.6 581.8,57.9 582.0,50.9" fill="#fff"/>
<line x1="584.8" y1="64.4" x2="578.7" y2="64.3" stroke="#fff" stroke-width="1.8"/><polygon points="573.5,64.2 579.3,60.8 579.1,67.8" fill="#fff"/>
<line x1="573.5" y1="74.0" x2="579.6" y2="74.3" stroke="#fff" stroke-width="1.8"/><polygon points="584.8,74.6 578.9,77.8 579.3,70.8" fill="#fff"/>
<line x1="616.7" y1="62.0" x2="621.9" y2="62.2" stroke="#fff" stroke-width="1.8"/><polygon points="627.1,62.3 621.3,65.6 621.5,58.6" fill="#fff"/>
<text x="655.4" y="33.2" class="se" font-size="12.5">B</text>
<polygon points="652.8,35.0 669.6,39.7 671.0,36.4 680.8,42.7 667.8,46.2 668.8,43.3 652.6,40.8" fill="#111"/>
<text x="551.6" y="101.6" class="sa" font-size="12">3</text>
<line x1="559.4" y1="103" x2="570.7" y2="106.7" stroke="#111" stroke-width="1.1"/>
<text x="643.6" y="108.4" class="sa" font-size="12.8">2 (FM)</text>
<line x1="558.5" y1="110.0" x2="551.8" y2="109.1" stroke="#111" stroke-width="1.8"/><polygon points="546.6,108.4 552.7,105.7 551.8,112.6" fill="#111"/>
<line x1="546.8" y1="119.4" x2="553.3" y2="120.1" stroke="#111" stroke-width="1.8"/><polygon points="558.5,120.6 552.5,123.5 553.2,116.5" fill="#111"/>
<line x1="556.6" y1="129.8" x2="550.0" y2="129.0" stroke="#111" stroke-width="1.8"/><polygon points="544.8,128.4 550.9,125.6 550.0,132.5" fill="#111"/>
<line x1="562.7" y1="154.3" x2="575.3" y2="141.1" stroke="#111" stroke-width="1.2"/>
<text x="534.4" y="170.3" class="sa" font-size="13">2 (AFM)</text>
<line x1="634.6" y1="146.0" x2="641.6" y2="146.2" stroke="#fff" stroke-width="1.8"/><polygon points="646.8,146.3 641.0,149.7 641.2,142.7" fill="#fff"/>
<line x1="634.6" y1="155.9" x2="640.3" y2="156.1" stroke="#fff" stroke-width="1.8"/><polygon points="645.5,156.2 639.7,159.5 639.9,152.5" fill="#fff"/>
<text x="632.5" y="201" class="sa" font-size="11" fill="#fff">1</text>
<line x1="627.0" y1="215.2" x2="633.3" y2="215.2" stroke="#fff" stroke-width="1.8"/><polygon points="638.5,215.2 632.8,218.7 632.8,211.7" fill="#fff"/>
<line x1="531.4" y1="194.6" x2="684" y2="211.4" stroke="#111" stroke-width="1.3" stroke-dasharray="4.4,5"/>
<text transform="translate(537,191.2) rotate(5.2)" class="sa" font-size="11.4">Encapsulation</text>
<text transform="translate(535.7,206.2) rotate(5.2)" class="sa" font-size="11.4">Non-encap.</text>
<rect x="538" y="216.4" width="15.5" height="2" fill="#111"/>
<text x="312.2" y="248.5" class="lab">e</text>
<g style="isolation:isolate">
<rect x="377.6" y="327.9" width="4.0" height="1.0" fill="#f9c87a" stroke="#2a2a2a" stroke-width="0.6" style="mix-blend-mode:multiply"/>
<rect x="381.6" y="327.8" width="4.0" height="1.1" fill="#f9c87a" stroke="#2a2a2a" stroke-width="0.6" style="mix-blend-mode:multiply"/>
<rect x="385.6" y="327.6" width="3.8" height="1.3" fill="#f9c87a" stroke="#2a2a2a" stroke-width="0.6" style="mix-blend-mode:multiply"/>
<rect x="389.4" y="327.2" width="4.0" height="1.7" fill="#f9c87a" stroke="#2a2a2a" stroke-width="0.6" style="mix-blend-mode:multiply"/>
<rect x="393.4" y="326.6" width="4.0" height="2.3" fill="#f9c87a" stroke="#2a2a2a" stroke-width="0.6" style="mix-blend-mode:multiply"/>
<rect x="397.4" y="310.6" width="4.1" height="18.3" fill="#f9c87a" stroke="#2a2a2a" stroke-width="0.6" style="mix-blend-mode:multiply"/>
<rect x="401.5" y="271.6" width="4.2" height="57.3" fill="#f9c87a" stroke="#2a2a2a" stroke-width="0.6" style="mix-blend-mode:multiply"/>
<rect x="405.7" y="291.7" width="3.7" height="37.2" fill="#f9c87a" stroke="#2a2a2a" stroke-width="0.6" style="mix-blend-mode:multiply"/>
<rect x="409.4" y="312.8" width="3.7" height="16.1" fill="#f9c87a" stroke="#2a2a2a" stroke-width="0.6" style="mix-blend-mode:multiply"/>
<rect x="413.1" y="321.3" width="3.7" height="7.6" fill="#f9c87a" stroke="#2a2a2a" stroke-width="0.6" style="mix-blend-mode:multiply"/>
<rect x="416.8" y="323.3" width="4.2" height="5.6" fill="#f9c87a" stroke="#2a2a2a" stroke-width="0.6" style="mix-blend-mode:multiply"/>
<rect x="421.0" y="326.6" width="4.4" height="2.3" fill="#f9c87a" stroke="#2a2a2a" stroke-width="0.6" style="mix-blend-mode:multiply"/>
<rect x="425.4" y="327.2" width="4.6" height="1.7" fill="#f9c87a" stroke="#2a2a2a" stroke-width="0.6" style="mix-blend-mode:multiply"/>
<rect x="408.6" y="313.0" width="4.1" height="15.9" fill="#f7a58b" stroke="#2a2a2a" stroke-width="0.6" style="mix-blend-mode:multiply"/>
<rect x="412.7" y="271.6" width="4.0" height="57.3" fill="#f7a58b" stroke="#2a2a2a" stroke-width="0.6" style="mix-blend-mode:multiply"/>
<rect x="416.7" y="282.6" width="4.3" height="46.3" fill="#f7a58b" stroke="#2a2a2a" stroke-width="0.6" style="mix-blend-mode:multiply"/>
<rect x="421.0" y="319.7" width="4.4" height="9.2" fill="#f7a58b" stroke="#2a2a2a" stroke-width="0.6" style="mix-blend-mode:multiply"/>
<rect x="425.4" y="321.3" width="4.6" height="7.6" fill="#f7a58b" stroke="#2a2a2a" stroke-width="0.6" style="mix-blend-mode:multiply"/>
<rect x="449.0" y="324.2" width="3.8" height="4.7" fill="#f7a58b" stroke="#2a2a2a" stroke-width="0.6" style="mix-blend-mode:multiply"/>
<rect x="452.8" y="322.3" width="4.2" height="6.6" fill="#f7a58b" stroke="#2a2a2a" stroke-width="0.6" style="mix-blend-mode:multiply"/>
<rect x="457.0" y="323.2" width="4.1" height="5.7" fill="#f7a58b" stroke="#2a2a2a" stroke-width="0.6" style="mix-blend-mode:multiply"/>
<rect x="461.1" y="302.5" width="4.3" height="26.4" fill="#f7a58b" stroke="#2a2a2a" stroke-width="0.6" style="mix-blend-mode:multiply"/>
<rect x="465.4" y="292.3" width="3.8" height="36.6" fill="#f7a58b" stroke="#2a2a2a" stroke-width="0.6" style="mix-blend-mode:multiply"/>
<rect x="469.2" y="272.0" width="4.3" height="56.9" fill="#f7a58b" stroke="#2a2a2a" stroke-width="0.6" style="mix-blend-mode:multiply"/>
<rect x="473.5" y="315.3" width="3.8" height="13.6" fill="#f7a58b" stroke="#2a2a2a" stroke-width="0.6" style="mix-blend-mode:multiply"/>
<rect x="477.3" y="325.3" width="4.2" height="3.6" fill="#f7a58b" stroke="#2a2a2a" stroke-width="0.6" style="mix-blend-mode:multiply"/>
<rect x="389.0" y="373.1" width="4.2" height="20.0" fill="#b0d8f3" stroke="#2a2a2a" stroke-width="0.6" style="mix-blend-mode:multiply"/>
<rect x="393.2" y="370.4" width="4.2" height="22.7" fill="#b0d8f3" stroke="#2a2a2a" stroke-width="0.6" style="mix-blend-mode:multiply"/>
<rect x="397.4" y="358.3" width="4.2" height="34.8" fill="#b0d8f3" stroke="#2a2a2a" stroke-width="0.6" style="mix-blend-mode:multiply"/>
<rect x="401.6" y="343.5" width="4.2" height="49.6" fill="#b0d8f3" stroke="#2a2a2a" stroke-width="0.6" style="mix-blend-mode:multiply"/>
<rect x="405.8" y="346.4" width="4.2" height="46.7" fill="#b0d8f3" stroke="#2a2a2a" stroke-width="0.6" style="mix-blend-mode:multiply"/>
<rect x="410.0" y="332.5" width="4.2" height="60.6" fill="#b0d8f3" stroke="#2a2a2a" stroke-width="0.6" style="mix-blend-mode:multiply"/>
<rect x="414.2" y="359.1" width="4.2" height="34.0" fill="#b0d8f3" stroke="#2a2a2a" stroke-width="0.6" style="mix-blend-mode:multiply"/>
<rect x="418.4" y="380.7" width="4.2" height="12.4" fill="#b0d8f3" stroke="#2a2a2a" stroke-width="0.6" style="mix-blend-mode:multiply"/>
<rect x="422.6" y="386.2" width="4.2" height="6.9" fill="#b0d8f3" stroke="#2a2a2a" stroke-width="0.6" style="mix-blend-mode:multiply"/>
<rect x="426.8" y="389.0" width="4.2" height="4.1" fill="#b0d8f3" stroke="#2a2a2a" stroke-width="0.6" style="mix-blend-mode:multiply"/>
<rect x="431.0" y="390.5" width="4.2" height="2.6" fill="#b0d8f3" stroke="#2a2a2a" stroke-width="0.6" style="mix-blend-mode:multiply"/>
<rect x="435.2" y="391.5" width="4.2" height="1.6" fill="#b0d8f3" stroke="#2a2a2a" stroke-width="0.6" style="mix-blend-mode:multiply"/>
<rect x="439.4" y="392.2" width="4.2" height="0.9" fill="#b0d8f3" stroke="#2a2a2a" stroke-width="0.6" style="mix-blend-mode:multiply"/>
<rect x="388.4" y="386.4" width="4.0" height="6.7" fill="#8fb5e1" stroke="#2a2a2a" stroke-width="0.6" style="mix-blend-mode:multiply"/>
<rect x="392.4" y="386.4" width="4.0" height="6.7" fill="#8fb5e1" stroke="#2a2a2a" stroke-width="0.6" style="mix-blend-mode:multiply"/>
<rect x="396.4" y="386.0" width="4.0" height="7.1" fill="#8fb5e1" stroke="#2a2a2a" stroke-width="0.6" style="mix-blend-mode:multiply"/>
<rect x="400.4" y="383.8" width="4.0" height="9.3" fill="#8fb5e1" stroke="#2a2a2a" stroke-width="0.6" style="mix-blend-mode:multiply"/>
<rect x="404.4" y="379.0" width="4.0" height="14.1" fill="#8fb5e1" stroke="#2a2a2a" stroke-width="0.6" style="mix-blend-mode:multiply"/>
<rect x="408.4" y="366.3" width="4.0" height="26.8" fill="#8fb5e1" stroke="#2a2a2a" stroke-width="0.6" style="mix-blend-mode:multiply"/>
<rect x="412.4" y="351.1" width="4.0" height="42.0" fill="#8fb5e1" stroke="#2a2a2a" stroke-width="0.6" style="mix-blend-mode:multiply"/>
<rect x="416.4" y="334.1" width="4.0" height="59.0" fill="#8fb5e1" stroke="#2a2a2a" stroke-width="0.6" style="mix-blend-mode:multiply"/>
<rect x="420.4" y="340.4" width="4.0" height="52.7" fill="#8fb5e1" stroke="#2a2a2a" stroke-width="0.6" style="mix-blend-mode:multiply"/>
<rect x="424.4" y="332.0" width="4.0" height="61.1" fill="#8fb5e1" stroke="#2a2a2a" stroke-width="0.6" style="mix-blend-mode:multiply"/>
<rect x="428.4" y="351.7" width="4.0" height="41.4" fill="#8fb5e1" stroke="#2a2a2a" stroke-width="0.6" style="mix-blend-mode:multiply"/>
<rect x="432.4" y="363.3" width="4.0" height="29.8" fill="#8fb5e1" stroke="#2a2a2a" stroke-width="0.6" style="mix-blend-mode:multiply"/>
<rect x="436.4" y="371.8" width="4.0" height="21.3" fill="#8fb5e1" stroke="#2a2a2a" stroke-width="0.6" style="mix-blend-mode:multiply"/>
<rect x="440.4" y="373.6" width="4.0" height="19.5" fill="#8fb5e1" stroke="#2a2a2a" stroke-width="0.6" style="mix-blend-mode:multiply"/>
<rect x="444.4" y="382.1" width="4.0" height="11.0" fill="#8fb5e1" stroke="#2a2a2a" stroke-width="0.6" style="mix-blend-mode:multiply"/>
<rect x="448.4" y="390.5" width="4.0" height="2.6" fill="#8fb5e1" stroke="#2a2a2a" stroke-width="0.6" style="mix-blend-mode:multiply"/>
<rect x="452.4" y="391.5" width="4.0" height="1.6" fill="#8fb5e1" stroke="#2a2a2a" stroke-width="0.6" style="mix-blend-mode:multiply"/>
<rect x="446.2" y="391.8" width="4.2" height="1.3" fill="#a49cdb" stroke="#2a2a2a" stroke-width="0.6" style="mix-blend-mode:multiply"/>
<rect x="450.4" y="390.7" width="4.3" height="2.4" fill="#a49cdb" stroke="#2a2a2a" stroke-width="0.6" style="mix-blend-mode:multiply"/>
<rect x="454.7" y="389.7" width="4.1" height="3.4" fill="#a49cdb" stroke="#2a2a2a" stroke-width="0.6" style="mix-blend-mode:multiply"/>
<rect x="458.8" y="386.3" width="4.2" height="6.8" fill="#a49cdb" stroke="#2a2a2a" stroke-width="0.6" style="mix-blend-mode:multiply"/>
<rect x="463.0" y="378.4" width="4.3" height="14.7" fill="#a49cdb" stroke="#2a2a2a" stroke-width="0.6" style="mix-blend-mode:multiply"/>
<rect x="467.3" y="377.5" width="4.2" height="15.6" fill="#a49cdb" stroke="#2a2a2a" stroke-width="0.6" style="mix-blend-mode:multiply"/>
<rect x="471.5" y="357.3" width="4.3" height="35.8" fill="#a49cdb" stroke="#2a2a2a" stroke-width="0.6" style="mix-blend-mode:multiply"/>
<rect x="475.8" y="331.9" width="4.2" height="61.2" fill="#a49cdb" stroke="#2a2a2a" stroke-width="0.6" style="mix-blend-mode:multiply"/>
<rect x="480.0" y="369.4" width="3.9" height="23.7" fill="#a49cdb" stroke="#2a2a2a" stroke-width="0.6" style="mix-blend-mode:multiply"/>
<rect x="483.9" y="388.8" width="4.1" height="4.3" fill="#a49cdb" stroke="#2a2a2a" stroke-width="0.6" style="mix-blend-mode:multiply"/>
<rect x="488.0" y="391.2" width="4.4" height="1.9" fill="#a49cdb" stroke="#2a2a2a" stroke-width="0.6" style="mix-blend-mode:multiply"/>
<rect x="492.4" y="392.2" width="4.1" height="0.9" fill="#a49cdb" stroke="#2a2a2a" stroke-width="0.6" style="mix-blend-mode:multiply"/>
</g>
<rect x="349.5" y="264.9" width="159.4" height="128.2" fill="none" stroke="#111" stroke-width="1.2"/>
<line x1="349.5" y1="328.9" x2="508.9" y2="328.9" stroke="#111" stroke-width="1.2"/>
<line x1="389.4" y1="264.9" x2="389.4" y2="267.6" stroke="#111" stroke-width="0.9"/>
<line x1="429.3" y1="264.9" x2="429.3" y2="267.6" stroke="#111" stroke-width="0.9"/>
<line x1="469.2" y1="264.9" x2="469.2" y2="267.6" stroke="#111" stroke-width="0.9"/>
<text x="347.4" y="268.9" class="sa" font-size="10" text-anchor="end">1.0</text>
<text x="347.4" y="332.2" class="sa" font-size="10" text-anchor="end">0.5</text>
<text x="346.9" y="396" class="sa" font-size="10" text-anchor="end">0</text>
<text x="349.7" y="404" class="sa" font-size="10" text-anchor="middle">0</text>
<text x="389.6" y="404" class="sa" font-size="10" text-anchor="middle">20</text>
<text x="429.5" y="404" class="sa" font-size="10" text-anchor="middle">40</text>
<text x="469.2" y="404" class="sa" font-size="10" text-anchor="middle">60</text>
<text x="509" y="404" class="sa" font-size="10" text-anchor="middle">80</text>
<text transform="translate(328.6,378.3) rotate(-90)" class="sa" font-size="11.9">Occurance (norm.)</text>
<text x="365.8" y="417.3" class="sa" font-size="12.2">Magnetisation <tspan class="se" font-size="13.2">(μ<tspan font-size="7.2" dy="2.4">B</tspan><tspan dy="-2.4">/nm</tspan><tspan font-size="8" dy="-5">2</tspan><tspan dy="5">)</tspan></tspan></text>
<text x="352.2" y="277" class="se" font-size="9.5">S2<tspan font-size="6" font-style="italic" dy="1.5">Encap</tspan></text>
<text x="388.2" y="283" class="se" font-size="9.5">1L</text>
<text x="429.7" y="282.5" class="se" font-size="9.5">3L</text>
<text x="477.3" y="283.3" class="se" font-size="9.5">FM-2L</text>
<text x="352.2" y="338.8" class="se" font-size="9.5">Air</text>
<text x="378.3" y="345.1" class="se" font-size="9.5">S3<tspan font-size="6" font-style="italic" dy="1.8">Air</tspan></text>
<text x="377.7" y="356.8" class="se" font-size="9.5">1L</text>
<text x="437.5" y="345.1" class="se" font-size="9.5">S1<tspan font-size="6" font-style="italic" dy="1.8">Air</tspan></text>
<text x="437.5" y="356.8" class="se" font-size="9.5">3L</text>
<text x="486" y="345.1" class="se" font-size="9.5">S3<tspan font-size="6" font-style="italic" dy="1.8">Air</tspan></text>
<text x="479.8" y="356.8" class="se" font-size="9.5">FM-2L</text>
<text x="521.0" y="247.8" class="lab">f</text>
<circle cx="559" cy="254.9" r="3.3" fill="#8dbde6" stroke="#4c8ccf" stroke-width="1.1"/>
<text x="566.5" y="258.6" class="se" font-size="10.5">S1<tspan font-size="5.9" font-style="italic" dy="2.9">Air</tspan></text>
<rect x="600.2" y="252.6" width="4.6" height="4.6" fill="#fad398" stroke="#f39a16" stroke-width="1.3"/>
<text x="612.6" y="258.6" class="se" font-size="10.5">S2<tspan font-size="5.9" font-style="italic" dy="2.9">Encap</tspan></text>
<polygon points="654.4,251.6 650.2,258 658.6,258" fill="#8dbde6" stroke="#4c8ccf" stroke-width="1.1" stroke-linejoin="round"/>
<text x="663.2" y="258.6" class="se" font-size="10.5">S3<tspan font-size="5.9" font-style="italic" dy="2.9">Air</tspan></text>
<rect x="555.2" y="267.2" width="128.3" height="127.9" fill="none" stroke="#111" stroke-width="1.2"/>
<line x1="567.9" y1="395.1" x2="567.9" y2="392.4" stroke="#111" stroke-width="0.9"/>
<line x1="567.9" y1="267.2" x2="567.9" y2="269.9" stroke="#111" stroke-width="0.9"/>
<text x="567.9" y="405" class="sa" font-size="10" text-anchor="middle">1</text>
<line x1="593.4" y1="395.1" x2="593.4" y2="392.4" stroke="#111" stroke-width="0.9"/>
<line x1="593.4" y1="267.2" x2="593.4" y2="269.9" stroke="#111" stroke-width="0.9"/>
<text x="593.4" y="405" class="sa" font-size="10" text-anchor="middle">2</text>
<line x1="619.0" y1="395.1" x2="619.0" y2="392.4" stroke="#111" stroke-width="0.9"/>
<line x1="619.0" y1="267.2" x2="619.0" y2="269.9" stroke="#111" stroke-width="0.9"/>
<text x="619.0" y="405" class="sa" font-size="10" text-anchor="middle">3</text>
<line x1="644.5" y1="395.1" x2="644.5" y2="392.4" stroke="#111" stroke-width="0.9"/>
<line x1="644.5" y1="267.2" x2="644.5" y2="269.9" stroke="#111" stroke-width="0.9"/>
<text x="644.5" y="405" class="sa" font-size="10" text-anchor="middle">4</text>
<line x1="670.1" y1="395.1" x2="670.1" y2="392.4" stroke="#111" stroke-width="0.9"/>
<line x1="670.1" y1="267.2" x2="670.1" y2="269.9" stroke="#111" stroke-width="0.9"/>
<text x="670.1" y="405" class="sa" font-size="10" text-anchor="middle">5</text>
<line x1="555.2" y1="395.0" x2="557.9" y2="395.0" stroke="#111" stroke-width="0.9"/>
<line x1="683.5" y1="395.0" x2="680.8" y2="395.0" stroke="#111" stroke-width="0.9"/>
<text x="552.4" y="398.6" class="sa" font-size="10" text-anchor="end">25</text>
<line x1="555.2" y1="352.4" x2="557.9" y2="352.4" stroke="#111" stroke-width="0.9"/>
<line x1="683.5" y1="352.4" x2="680.8" y2="352.4" stroke="#111" stroke-width="0.9"/>
<text x="552.4" y="356.0" class="sa" font-size="10" text-anchor="end">30</text>
<line x1="555.2" y1="309.8" x2="557.9" y2="309.8" stroke="#111" stroke-width="0.9"/>
<line x1="683.5" y1="309.8" x2="680.8" y2="309.8" stroke="#111" stroke-width="0.9"/>
<text x="552.4" y="313.4" class="sa" font-size="10" text-anchor="end">35</text>
<line x1="555.2" y1="267.2" x2="557.9" y2="267.2" stroke="#111" stroke-width="0.9"/>
<line x1="683.5" y1="267.2" x2="680.8" y2="267.2" stroke="#111" stroke-width="0.9"/>
<text x="552.4" y="270.8" class="sa" font-size="10" text-anchor="end">40</text>
<text x="619" y="416.6" class="sa" font-size="11.6" text-anchor="middle">Layer</text>
<text transform="translate(536.2,375.4) rotate(-90)" class="sa" font-size="12">M/Layer <tspan class="se" font-size="12.6">(μ<tspan font-size="7" dy="2.3">B</tspan><tspan dy="-2.3">/nm</tspan><tspan font-size="7.6" dy="-4.8">2</tspan><tspan dy="4.8">)</tspan></tspan></text>
<line x1="555.2" y1="300.9" x2="683.5" y2="300.9" stroke="#111" stroke-width="1.1" stroke-dasharray="3.6,2.4"/>
<text x="562.2" y="297.6" class="sa" font-size="9.6">Expected</text>
<text x="562.2" y="311.6" class="sa" font-size="9.6">Value</text>
<polyline points="568.4,368.1 569.6,365.3 570.7,362.7 571.8,360.3 573.0,358.1 574.1,356.1 575.3,354.2 576.4,352.4 577.6,350.7 578.7,349.2 579.9,347.7 581.0,346.3 582.1,345.0 583.3,343.8 584.4,342.7 585.6,341.6 586.7,340.5 587.9,339.5 589.0,338.6 590.2,337.7 591.3,336.9 592.4,336.0 593.6,335.3 594.7,334.5 595.9,333.8 597.0,333.1 598.2,332.5 599.3,331.9 600.5,331.2 601.6,330.7 602.8,330.1 603.9,329.6 605.0,329.1 606.2,328.6 607.3,328.1 608.5,327.6 609.6,327.2 610.8,326.7 611.9,326.3 613.1,325.9 614.2,325.5 615.3,325.1 616.5,324.8 617.6,324.4 618.8,324.1 619.9,323.7 621.1,323.4 622.2,323.1 623.4,322.8 624.5,322.5 625.6,322.2 626.8,321.9 627.9,321.6 629.1,321.4 630.2,321.1 631.4,320.8 632.5,320.6 633.7,320.4 634.8,320.1 635.9,319.9 637.1,319.7 638.2,319.4 639.4,319.2 640.5,319.0 641.7,318.8 642.8,318.6 644.0,318.4 645.1,318.2 646.2,318.0 647.4,317.9 648.5,317.7 649.7,317.5 650.8,317.3 652.0,317.2 653.1,317.0 654.3,316.8 655.4,316.7 656.5,316.5 657.7,316.4 658.8,316.2 660.0,316.1 661.1,315.9 662.3,315.8 663.4,315.7 664.6,315.5 665.7,315.4 666.9,315.3 668.0,315.1 669.1,315.0 670.3,314.9 671.4,314.8 672.6,314.7 673.7,314.5 674.9,314.4 676.0,314.3 677.2,314.2 678.3,314.1 679.4,314.0 680.6,313.9 681.7,313.8 682.9,313.7" fill="none" stroke="#111" stroke-width="1.3"/>
<text x="651.8" y="326" class="sa" font-size="9.6">Model</text>
<g style="isolation:isolate">
<rect x="565.5" y="358.5" width="4.8" height="4.8" fill="#fad398" stroke="#f39a16" stroke-width="1.3"/>
<rect x="565.5" y="367.0" width="4.8" height="4.8" fill="#fad398" stroke="#f39a16" stroke-width="1.3"/>
<rect x="591.0" y="358.5" width="4.8" height="4.8" fill="#fad398" stroke="#f39a16" stroke-width="1.3"/>
<rect x="616.6" y="324.4" width="4.8" height="4.8" fill="#fad398" stroke="#f39a16" stroke-width="1.3"/>
<rect x="616.6" y="327.8" width="4.8" height="4.8" fill="#fad398" stroke="#f39a16" stroke-width="1.3"/>
<rect x="616.6" y="341.5" width="4.8" height="4.8" fill="#fad398" stroke="#f39a16" stroke-width="1.3"/>
<polygon points="567.9,348.6 563.7,355.1 572.1,355.1" fill="#7fb0df" fill-opacity="0.8" stroke="#3f80c6" stroke-width="1.2" stroke-linejoin="round"/>
<polygon points="567.9,374.2 563.7,380.7 572.1,380.7" fill="#7fb0df" fill-opacity="0.8" stroke="#3f80c6" stroke-width="1.2" stroke-linejoin="round"/>
<polygon points="593.4,321.3 589.2,327.8 597.6,327.8" fill="#7fb0df" fill-opacity="0.8" stroke="#3f80c6" stroke-width="1.2" stroke-linejoin="round"/>
<polygon points="593.4,331.6 589.2,338.1 597.6,338.1" fill="#7fb0df" fill-opacity="0.8" stroke="#3f80c6" stroke-width="1.2" stroke-linejoin="round"/>
<polygon points="593.4,344.3 589.2,350.8 597.6,350.8" fill="#7fb0df" fill-opacity="0.8" stroke="#3f80c6" stroke-width="1.2" stroke-linejoin="round"/>
<polygon points="593.4,357.1 589.2,363.6 597.6,363.6" fill="#7fb0df" fill-opacity="0.8" stroke="#3f80c6" stroke-width="1.2" stroke-linejoin="round"/>
<polygon points="670.1,280.4 665.9,286.9 674.3,286.9" fill="#7fb0df" fill-opacity="0.8" stroke="#3f80c6" stroke-width="1.2" stroke-linejoin="round"/>
<polygon points="670.1,289.0 665.9,295.5 674.3,295.5" fill="#7fb0df" fill-opacity="0.8" stroke="#3f80c6" stroke-width="1.2" stroke-linejoin="round"/>
<circle cx="619.0" cy="295.3" r="3.4" fill="#8dbde6" stroke="#4c8ccf" stroke-width="1.1"/>
<circle cx="619.0" cy="314.1" r="3.4" fill="#8dbde6" stroke="#4c8ccf" stroke-width="1.1"/>
</g>
</svg>
</body></html>
